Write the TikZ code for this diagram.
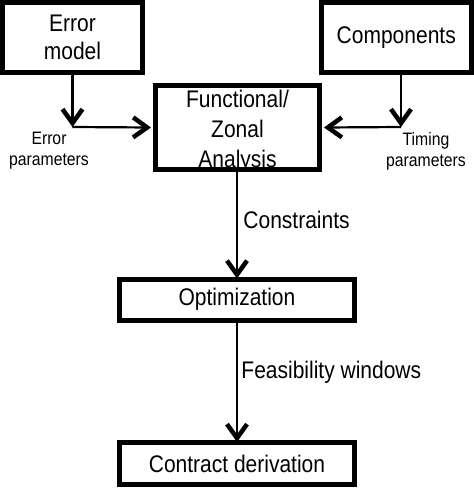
\documentclass[tikz,border=0pt]{standalone}
\usepackage{fontspec}
\setmainfont[FakeStretch=0.875]{Liberation Sans}
\usetikzlibrary{arrows.meta}
\usetikzlibrary{positioning}

\begin{document}
\begin{tikzpicture}[x=1pt, y=-1pt, >={Straight Barb[length=14pt, width=20pt, line width=4.5pt]},
      block/.style={draw, line width=5pt, inner sep=0pt, align=center, font=\fontsize{24}{28}\selectfont},
      flow/.style={->, line width=2.2pt},
      big/.style={font=\fontsize{24}{30}\selectfont, align=center},
      small/.style={font=\fontsize{18}{21}\selectfont, align=center}]
      % pixel grid of the page, y grows downwards
      \useasboundingbox (0,0) rectangle (474,488);
      \def\midx{237}

      % top row
      \node [block, minimum width=140pt, minimum height=70pt] (errmodel) at (72.5, 37.5) {Error\\model};
      \node [block, minimum width=150.5pt, minimum height=70pt] (components) at (396.25, 37.5) {Components};

      % analysis box, its text is taller than the box
      \node [block, minimum width=164pt, minimum height=84pt] (analysis) at (237.5, 127.5) {};
      \node [big] (analysistext) at ([yshift=-4pt]analysis.center) {Functional/\\Zonal\\Analysis};

      \node [block, minimum width=235pt, minimum height=41.5pt] (optim) at (\midx, 299.75) {Optimization};
      \node [block, minimum width=235pt, minimum height=42pt] (contract) at (\midx, 463.5) {Contract derivation};

      % inputs of the analysis
      \coordinate (errjoin) at (72.5, 127);
      \coordinate (timjoin) at (401, 127);
      \draw [flow] (errmodel.south) -- (errjoin);
      \draw [flow] (errjoin) -- ([xshift=-2pt]analysis.west);
      \draw [flow] (components.south -| timjoin) -- (timjoin);
      \draw [flow] (timjoin) -- ([xshift=2pt]analysis.east);
      \node [small] (errpar) at (49, 151) {Error\\parameters};
      \node [small] (timpar) at (426, 151) {Timing\\parameters};

      % main flow
      \draw [flow] (analysis.south -| optim.north) -- ([yshift=-2pt]optim.north) node [big, right, pos=0.45, xshift=2pt] (constr) {Constraints};
      \draw [flow] (optim.south) -- ([yshift=-2pt]contract.north) node [big, right, pos=0.41] (feas) {Feasibility windows};
\end{tikzpicture}
\end{document}
